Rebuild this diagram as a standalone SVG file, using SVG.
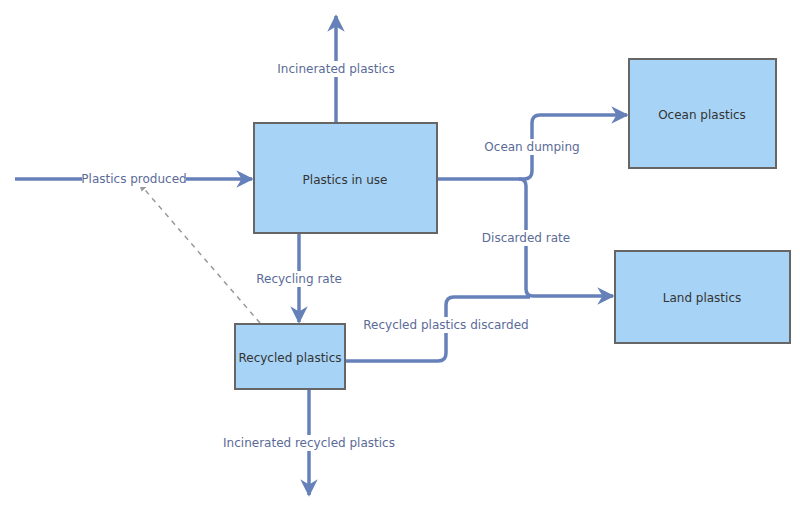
<svg xmlns="http://www.w3.org/2000/svg" width="800" height="517" viewBox="0 0 800 517">
<defs>
<marker id="ah" viewBox="0 0 10 10" refX="9" refY="5" markerWidth="5" markerHeight="5" markerUnits="strokeWidth" orient="auto"><path d="M0,0 L10,5 L0,10 L3,5 Z" fill="#6681b9"/></marker>
<marker id="ag" viewBox="0 0 10 10" refX="9" refY="5" markerWidth="6" markerHeight="6" orient="auto"><path d="M0,1 L10,5 L0,9 Z" fill="#999"/></marker>
<style>
.box{fill:#a7d3f6;stroke:#666;stroke-width:2}
.nt{font-family:"DejaVu Sans",sans-serif;font-size:12px;fill:#333;text-anchor:middle;dominant-baseline:middle}
.c{fill:none;stroke:#6681b9;stroke-width:3.5;stroke-linejoin:round}
.lb{font-family:"DejaVu Sans",sans-serif;font-size:12px;fill:#5b6b98;text-anchor:middle;dominant-baseline:middle}
.bg{fill:#fff}
</style>
</defs>
<rect width="800" height="517" fill="#fff"/>
<g id="connectors">
<path class="c" d="M15,179 H252" marker-end="url(#ah)"/>
<path class="c" d="M336,123 V16" marker-end="url(#ah)"/>
<path class="c" d="M299,233 V322" marker-end="url(#ah)"/>
<path class="c" d="M309,389 V495" marker-end="url(#ah)"/>
<path class="c" d="M437,179 H524 Q532,179 532,171 V123 Q532,115 540,115 H627" marker-end="url(#ah)"/>
<path class="c" d="M519,179 Q526,179 526,186 V289 Q526,296 533,296 H613" marker-end="url(#ah)"/>
<path class="c" d="M345,361 H438 Q446,361 446,353 V305 Q446,297 454,297 H530"/>
<path d="M260,323 L139,183" fill="none" stroke="#999" stroke-width="1.5" stroke-dasharray="5,5" marker-end="url(#ag)"/>
<rect class="bg" x="82" y="171" width="104" height="16"/>
<text class="lb" x="134" y="179">Plastics produced</text>
<rect class="bg" x="274" y="61" width="124" height="16"/>
<text class="lb" x="336" y="69">Incinerated plastics</text>
<rect class="bg" x="255" y="271" width="88" height="16"/>
<text class="lb" x="299" y="279">Recycling rate</text>
<rect class="bg" x="220" y="435" width="178" height="16"/>
<text class="lb" x="309" y="443">Incinerated recycled plastics</text>
<rect class="bg" x="487" y="139" width="90" height="16"/>
<text class="lb" x="532" y="147">Ocean dumping</text>
<rect class="bg" x="480" y="230" width="92" height="16"/>
<text class="lb" x="526" y="238">Discarded rate</text>
<rect class="bg" x="362" y="317" width="168" height="16"/>
<text class="lb" x="446" y="325">Recycled plastics discarded</text>
</g>
<g id="plastics-in-use"><rect class="box" x="254" y="123" width="183" height="110"/><text class="nt" x="345" y="180">Plastics in use</text></g>
<g id="ocean-plastics"><rect class="box" x="629" y="59" width="147" height="109"/><text class="nt" x="702" y="115">Ocean plastics</text></g>
<g id="land-plastics"><rect class="box" x="615" y="251" width="175" height="92"/><text class="nt" x="702" y="298">Land plastics</text></g>
<g id="recycled-plastics"><rect class="box" x="235" y="324" width="110" height="65"/><text class="nt" x="290" y="358">Recycled plastics</text></g>
</svg>
